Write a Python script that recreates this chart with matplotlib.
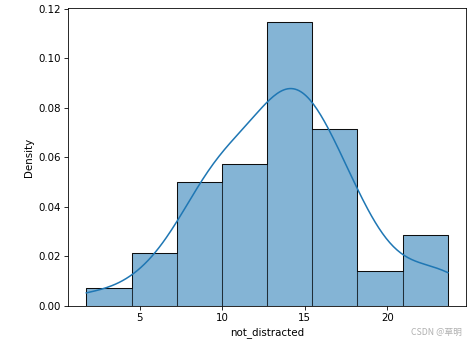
import numpy as np
import matplotlib.pyplot as plt

# not_distracted column (car_crashes, 51 states)
not_distracted = [
    18.048, 16.29, 15.624, 21.056, 10.92, 10.744, 9.396, 14.094, 5.9, 16.468,
    14.82, 14.35, 13.005, 12.032, 13.775, 15.229, 13.706, 16.692, 14.965, 13.137,
    8.875, 7.134, 13.395, 8.448, 1.76, 14.812, 17.976, 13.857, 13.965, 10.092,
    9.632, 12.328, 10.824, 15.792, 23.661, 13.959, 18.308, 8.576, 17.472, 10.212,
    22.944, 19.012, 15.99, 17.654, 9.944, 13.056, 11.049, 8.692, 23.086, 5.382,
    14.094,
]
n_bins = 8

BAR_COLOR = "#1f77b4"

x = np.asarray(not_distracted)

# gaussian KDE, Scott's rule, clipped to data range (cut=0)
bw = x.std(ddof=1) * len(x) ** (-1 / 5)
grid = np.linspace(x.min(), x.max(), 200)
dens = np.exp(-0.5 * ((grid[:, None] - x[None, :]) / bw) ** 2).sum(axis=1)
dens /= len(x) * bw * np.sqrt(2 * np.pi)

fig = plt.figure(figsize=(474 / 74, 345 / 74), dpi=74)
ax = fig.add_axes([0.144, 0.113, 0.839, 0.864])

ax.hist(x, bins=n_bins, density=True, color=BAR_COLOR, alpha=0.55,
        edgecolor="black", linewidth=1.0)
# redraw edges fully opaque
ax.hist(x, bins=n_bins, density=True, histtype="step", color="black",
        linewidth=1.0, alpha=0.85)
ax.plot(grid, dens, color=BAR_COLOR, linewidth=1.5)

ax.set_xlabel("not_distracted")
ax.set_ylabel("Density")
ax.set_yticks([0.0, 0.02, 0.04, 0.06, 0.08, 0.10, 0.12])

fig.text(0.975, 0.037, "CSDN @草明", ha="right", va="center", fontsize=8.5,
         color="#b0b0b0", family=["Noto Sans CJK SC", "DejaVu Sans"])

fig.savefig("out.png", dpi=74)
